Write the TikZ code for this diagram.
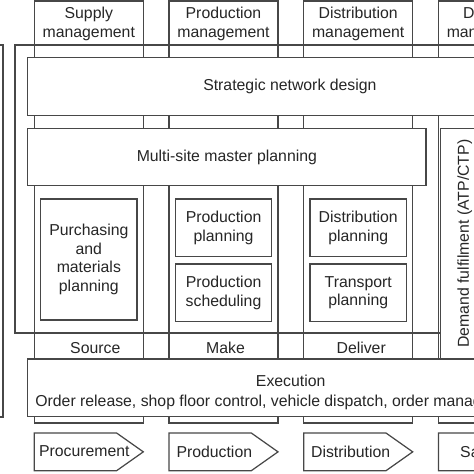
\documentclass[tikz,border=0pt]{standalone}
\usepackage{fontspec}
\setmainfont{Liberation Sans}
\usetikzlibrary{positioning,calc}
\newcommand{\pxu}{0.02cm}

\begin{document}
\begin{tikzpicture}[
    x=0.02cm, y=-0.02cm,
    frame/.style={draw=black!72, line width=0.7pt},
    box/.style={frame, fill=white, inner sep=0pt, align=center, text=black!85, font=\fontsize{9}{10.6}\selectfont},
    shortbox/.style={box, minimum width=96.3*\pxu, minimum height=57.3*\pxu},
    txt/.style={inner sep=0pt, align=center, text=black!85, font=\fontsize{9}{10.6}\selectfont}
]
\useasboundingbox (0,0) rectangle (474,474);
\clip (0,0) rectangle (474,474);

% Left panel (cut off)
\draw[frame] (-60,45) rectangle (3,417);

% Planning frame
\draw[frame] (15,45) rectangle (600,333);

% Columns
\foreach \i/\col/\head in {0/sup/Supply, 1/pro/Production, 2/dis/Distribution, 3/dem/Demand} {
    \draw[frame] (34.3+134.7*\i,1) rectangle ++(109,422);
    \node[txt] (\col-head) at (88.8+134.7*\i,24) {\head\\management};
}

% Long-term
\node[box, minimum width=524.3*\pxu, minimum height=58*\pxu] (snd) at (289.85,86.7) {Strategic network design};

% Mid-term
\node[box, minimum width=398.3*\pxu, minimum height=57.4*\pxu] (msmp) at (226.85,157) {Multi-site master planning};

% Short-term
\node[box, minimum width=96.3*\pxu, minimum height=121*\pxu] (pmp) at (88.85,259.5) {Purchasing\\and\\materials\\planning};
\node[shortbox] (pp) at (223.55,227.65) {Production\\planning};
\node[shortbox, below=0.13cm of pp] (ps) {Production\\scheduling};
\node[shortbox] (dp) at (358.25,227.65) {Distribution\\planning};
\node[shortbox, below=0.13cm of dp] (tp) {Transport\\planning};

% Demand fulfilment
\node[box, rotate=90, minimum width=230.7*\pxu, minimum height=48.3*\pxu] (df) at (464.85,243.65) {Demand fulfilment (ATP/CTP)};

% Column labels
\node[txt] (src) at (95.3,347.7) {Source};
\node[txt] (mk) at (225.5,347.7) {Make};
\node[txt] (dlv) at (361.2,347.7) {Deliver};

% Execution
\node[box, minimum width=525*\pxu, minimum height=57.7*\pxu] (exe) at (290.2,387.85) {};
\node[txt] (exe-title) at (290.7,380.7) {Execution};
\node[txt, anchor=west] (exe-tasks) at (35,402) {Order release, shop floor control, vehicle dispatch, order management};

% Chevrons
\foreach \i/\name/\lbl/\tx in {0/proc/Procurement/84.3, 1/prod/Production/214.3, 2/dist/Distribution/350.7, 3/sales/Sales/480} {
    \draw[frame] (34.3+134.7*\i,433) -- ++(82.3,0) -- ++(26.7,18.85) -- ++(-26.7,18.85) -- ++(-82.3,0) -- cycle;
    \node[txt] (\name) at (\tx,451.5) {\lbl};
}

\end{tikzpicture}
\end{document}
